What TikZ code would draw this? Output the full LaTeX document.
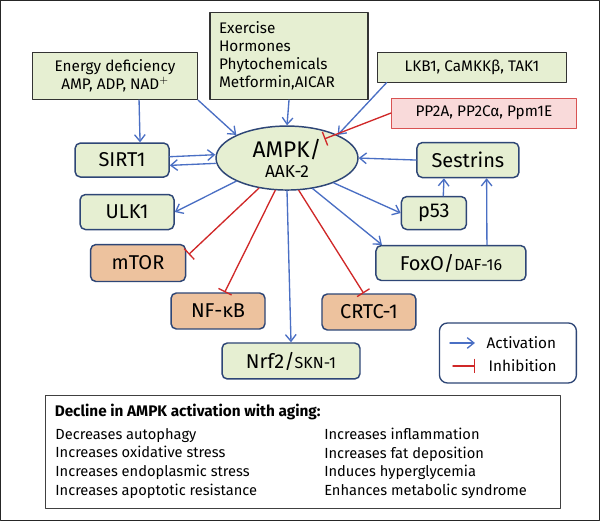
\documentclass[tikz,border=0pt]{standalone}
\usepackage{fontspec}
\setmainfont{Fira Sans}
\usepackage{tikz}
\usetikzlibrary{arrows.meta,shapes.geometric}
\definecolor{actblue}{HTML}{4A6FC4}
\definecolor{inhred}{HTML}{D02828}
\definecolor{boxgreen}{HTML}{E6EFD2}
\definecolor{boxorange}{HTML}{EDC29E}
\definecolor{boxpink}{HTML}{F9DADA}
\definecolor{boxline}{HTML}{2E4676}
\tikzset{
  inbox/.style={draw=black!80,fill=boxgreen,line width=0.8pt,align=left,font=\fontsize{11.5}{13.5}\selectfont},
  gene/.style={draw=boxline,fill=boxgreen,rounded corners=4pt,line width=1.1pt,font=\fontsize{15}{17}\selectfont,inner sep=0pt},
  blocked/.style={gene,fill=boxorange},
  act/.style={-{Straight Barb[length=5pt,width=8pt]},actblue,line width=1pt},
  inh/.style={-{Bar[width=11pt]},inhred,line width=1pt}
}
\begin{document}
\begin{tikzpicture}[line cap=round,line join=round,x=0.75pt,y=-0.75pt]
\draw[black!85,line width=0.9pt,fill=white] (0.5,0.5) rectangle (599.5,520.5);
% inputs
\node[inbox,minimum width=165*0.75pt,minimum height=47*0.75pt,align=center] (energy) at (115,76) {Energy deficiency\\AMP, ADP, NAD$^{+}$};
\node[inbox,minimum width=158*0.75pt,minimum height=87*0.75pt,text width=140*0.75pt] (stim) at (289,56) {Exercise\\Hormones\\Phytochemicals\\Metformin,AICAR};
\node[inbox,minimum width=189*0.75pt,minimum height=30*0.75pt,align=center] (kin) at (472,67) {LKB1, CaMKKβ, TAK1};
\node[inbox,draw=inhred!80,fill=boxpink,minimum width=185*0.75pt,minimum height=30*0.75pt,align=center] (phos) at (484,113) {PP2A, PP2Cα, Ppm1E};
% centre
\node[ellipse,draw=boxline,fill=boxgreen,line width=1.1pt,minimum width=142*0.75pt,minimum height=64*0.75pt,inner sep=0pt,align=center] (ampk) at (287,158) {{\fontsize{17}{18}\selectfont AMPK/}\\[3pt]{\fontsize{13}{14}\selectfont AAK-2}};
% targets
\node[gene,minimum width=94*0.75pt,minimum height=34*0.75pt] (sirt) at (122,160) {SIRT1};
\node[gene,minimum width=94*0.75pt,minimum height=35*0.75pt] (ulk) at (127,212) {ULK1};
\node[blocked,minimum width=95*0.75pt,minimum height=37*0.75pt] (mtor) at (138,263) {mTOR};
\node[blocked,minimum width=94*0.75pt,minimum height=36*0.75pt] (nfkb) at (218,311) {NF-κB};
\node[blocked,minimum width=94*0.75pt,minimum height=36*0.75pt] (crtc) at (369,312) {CRTC-1};
\node[gene,minimum width=138*0.75pt,minimum height=36*0.75pt] (nrf) at (291,361) {Nrf2/{\fontsize{12}{14}\selectfont SKN-1}};
\node[gene,minimum width=102*0.75pt,minimum height=35*0.75pt] (sest) at (468,160) {Sestrins};
\node[gene,minimum width=65*0.75pt,minimum height=33*0.75pt] (p53) at (434,213) {p53};
\node[gene,minimum width=150*0.75pt,minimum height=35*0.75pt] (foxo) at (451,263) {FoxO/{\fontsize{12}{14}\selectfont DAF-16}};
% activation
\draw[act] (energy.south east) -- (ampk.north west);
\draw[act] ([xshift=18pt]energy.south) -- ([xshift=13.5pt]sirt.north);
\draw[act] (stim.south) -- (ampk.north);
\draw[act] ([xshift=-64pt]kin.south) -- (ampk.north east);
\draw[act] ([yshift=2.5pt]sirt.east) -- ([yshift=2.5pt]ampk.west);
\draw[act] ([yshift=-4pt]ampk.west) -- ([yshift=-4pt]sirt.east);
\draw[act] (sest.west) -- (ampk.east);
\draw[act] (ampk.south west) -- (ulk.east);
\draw[act] (ampk.-28) -- (p53.west);
\draw[act] (ampk.-50) -- ([xshift=5pt]foxo.north west);
\draw[act] (ampk.south) -- (nrf.north);
\draw[act] ([xshift=7pt]p53.north) -- ([xshift=-18pt]sest.south);
\draw[act] ([xshift=27pt]foxo.north) -- ([xshift=14pt]sest.south);
% inhibition
\draw[inh] (phos.west) -- ([shift={(-10pt,-3pt)}]ampk.north east);
\draw[inh] (ampk.-133) -- ([shift={(38pt,-8pt)}]mtor.north);
\draw[inh] (ampk.-110) -- ([xshift=5pt]nfkb.north);
\draw[inh] (ampk.-70) -- ([xshift=-4pt]crtc.north);
% legend
\node[draw=boxline,rounded corners=6pt,line width=1pt,minimum width=137*0.75pt,minimum height=60*0.75pt] (key) at (508,353) {};
\coordinate (actA) at (450,343);
\coordinate (actB) at (475,343);
\coordinate (inhA) at (453,366);
\coordinate (inhB) at (475,366);
\draw[act] (actA) -- (actB);
\draw[inh] (inhA) -- (inhB);
\node[anchor=west,font=\fontsize{11.5}{13}\selectfont] (actlab) at (482,343) {Activation};
\node[anchor=west,font=\fontsize{11.5}{13}\selectfont] (inhlab) at (484,366) {Inhibition};
% aging effects
\node[draw=black!75,line width=0.8pt,minimum width=516*0.75pt,minimum height=113*0.75pt] (aging) at (303,452) {};
\node[anchor=west,font=\bfseries\fontsize{11.5}{13}\selectfont] (title) at (50,412) {Decline in AMPK activation with aging:};
\node[anchor=north west,align=left,font=\fontsize{11}{14}\selectfont,inner sep=0pt] (leftcol) at (55,428) {Decreases autophagy\\Increases oxidative stress\\Increases endoplasmic stress\\Increases apoptotic resistance};
\node[anchor=north west,align=left,font=\fontsize{11}{14}\selectfont,inner sep=0pt] (rightcol) at (324,428) {Increases inflammation\\Increases fat deposition\\Induces hyperglycemia\\Enhances metabolic syndrome};
\end{tikzpicture}
\end{document}
